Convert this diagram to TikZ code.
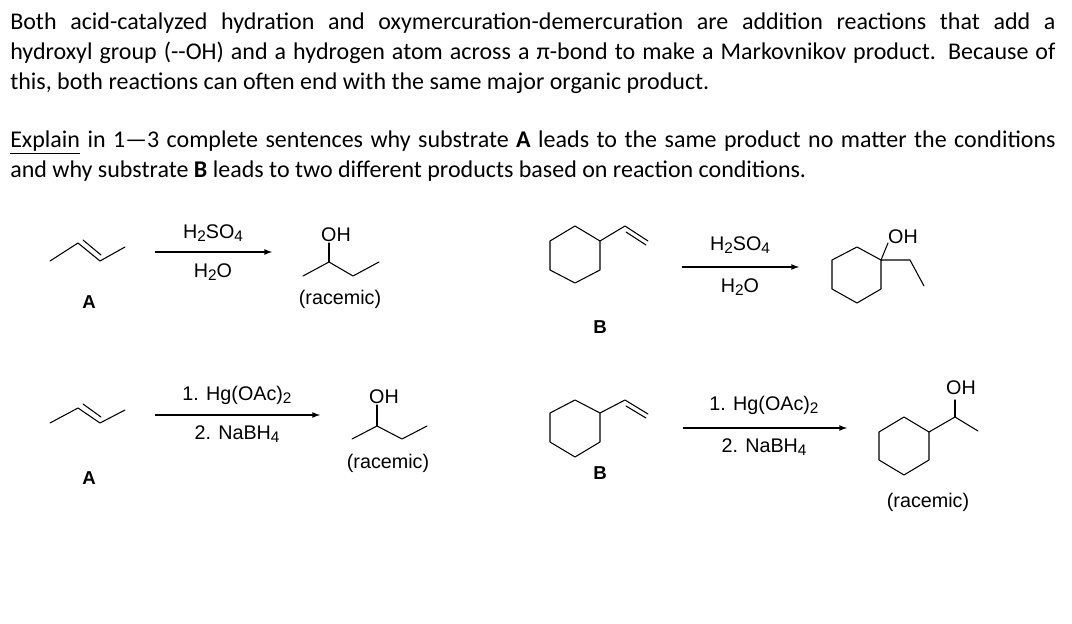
\documentclass[tikz,border=0pt]{standalone}
\usepackage{fontspec}
\setmainfont{Carlito}
\newfontfamily\chemf{Liberation Sans}
\newcommand{\chsub}[1]{\raisebox{-0.35ex}{\fontsize{11.5}{12}\selectfont #1}}
\begin{document}
\begin{tikzpicture}[x=0.75pt,y=-0.75pt,
  bond/.style={line width=0.8pt,line cap=round,line join=round},
  chem/.style={font=\chemf\fontsize{14.8}{16}\selectfont,inner sep=0pt},
  lbl/.style={font=\chemf\bfseries\fontsize{14}{16}\selectfont,inner sep=0pt},
  rarrow/.style={line width=1pt,-latex}]
\useasboundingbox (0,0) rectangle (1072,624);
\node[anchor=north west,inner sep=0pt,text width=784pt,align=justify,font=\fontsize{18}{22.5}\selectfont] (p1) at (10,13)
 {Both acid-catalyzed hydration and oxymercuration-demercuration are addition reactions that add a\linebreak hydroxyl group (-{}-OH) and a hydrogen atom across a π-bond to make a Markovnikov product. Because of\linebreak this, both reactions can often end with the same major organic product.};
\node[anchor=north west,inner sep=0pt,text width=784pt,align=justify,font=\fontsize{18}{22}\selectfont] (p2) at (10,131)
 {\underline{Explain} in 1—3 complete sentences why substrate \textbf{A} leads to the same product no matter the conditions\linebreak and why substrate \textbf{B} leads to two different products based on reaction conditions.};
% top-left A
\draw[bond] (50,261)--(78,243)--(100,261)--(125,247);
\draw[bond] (83,240)--(101,255);
\node[lbl] (la1) at (89,302) {A};
\coordinate (a1s) at (155,252); \coordinate (a1e) at (272,252);
\draw[rarrow] (a1s)--(a1e);
\node[chem] (r1) at (213,233) {H\chsub{2}SO\chsub{4}};
\node[chem] (r2) at (213,272) {H\chsub{2}O};
\draw[bond] (303,276)--(329,262)--(353,276)--(379,262);
\draw[bond] (329,262)--(329,243);
\node[chem] (oh1) at (336,235) {OH};
\node[chem] (rc1) at (340,299) {(racemic)};
% bottom-left A
\draw[bond] (50,423)--(78,408)--(100,423)--(125,410);
\draw[bond] (83,404)--(101,417);
\node[lbl] (la2) at (89,478) {A};
\coordinate (a2s) at (155,415); \coordinate (a2e) at (320,415);
\draw[rarrow] (a2s)--(a2e);
\node[chem] (r3) at (237,395) {1. Hg(OAc)\chsub{2}};
\node[chem] (r4) at (237,434) {2. NaBH\chsub{4}};
\draw[bond] (352,439)--(377,426)--(402,439)--(427,426);
\draw[bond] (377,426)--(377,405);
\node[chem] (oh2) at (384,397) {OH};
\node[chem] (rc2) at (388,463) {(racemic)};
% top B
\draw[bond] (550,241)--(575,226)--(600,241)--(600,270)--(575,283)--(550,270)--cycle;
\draw[bond] (600,241)--(625,226)--(648,241);
\draw[bond] (626,232)--(646,245);
\node[lbl] (lb1) at (600,327) {B};
\coordinate (a3s) at (682,267); \coordinate (a3e) at (799,267);
\draw[rarrow] (a3s)--(a3e);
\node[chem] (r5) at (740,245) {H\chsub{2}SO\chsub{4}};
\node[chem] (r6) at (740,287) {H\chsub{2}O};
\draw[bond] (832,260)--(857,247)--(881,260)--(881,289)--(857,303)--(832,289)--cycle;
\draw[bond] (881,260)--(910,260)--(924,286);
\draw[bond] (881,260)--(888,243);
\node[chem] (oh3) at (903,237) {OH};
% bottom B
\draw[bond] (550,413)--(575,400)--(600,413)--(600,442)--(575,457)--(550,442)--cycle;
\draw[bond] (600,413)--(625,400)--(648,414);
\draw[bond] (626,406)--(646,418);
\node[lbl] (lb2) at (600,473) {B};
\coordinate (a4s) at (683,428); \coordinate (a4e) at (847,428);
\draw[rarrow] (a4s)--(a4e);
\node[chem] (r7) at (764,405) {1. Hg(OAc)\chsub{2}};
\node[chem] (r8) at (764,447) {2. NaBH\chsub{4}};
\draw[bond] (879,432)--(904,417)--(929,432)--(929,460)--(904,475)--(879,460)--cycle;
\draw[bond] (929,432)--(955,417)--(978,431);
\draw[bond] (955,417)--(955,400);
\node[chem] (oh4) at (961,388) {OH};
\node[chem] (rc3) at (928,502) {(racemic)};
\end{tikzpicture}
\end{document}
